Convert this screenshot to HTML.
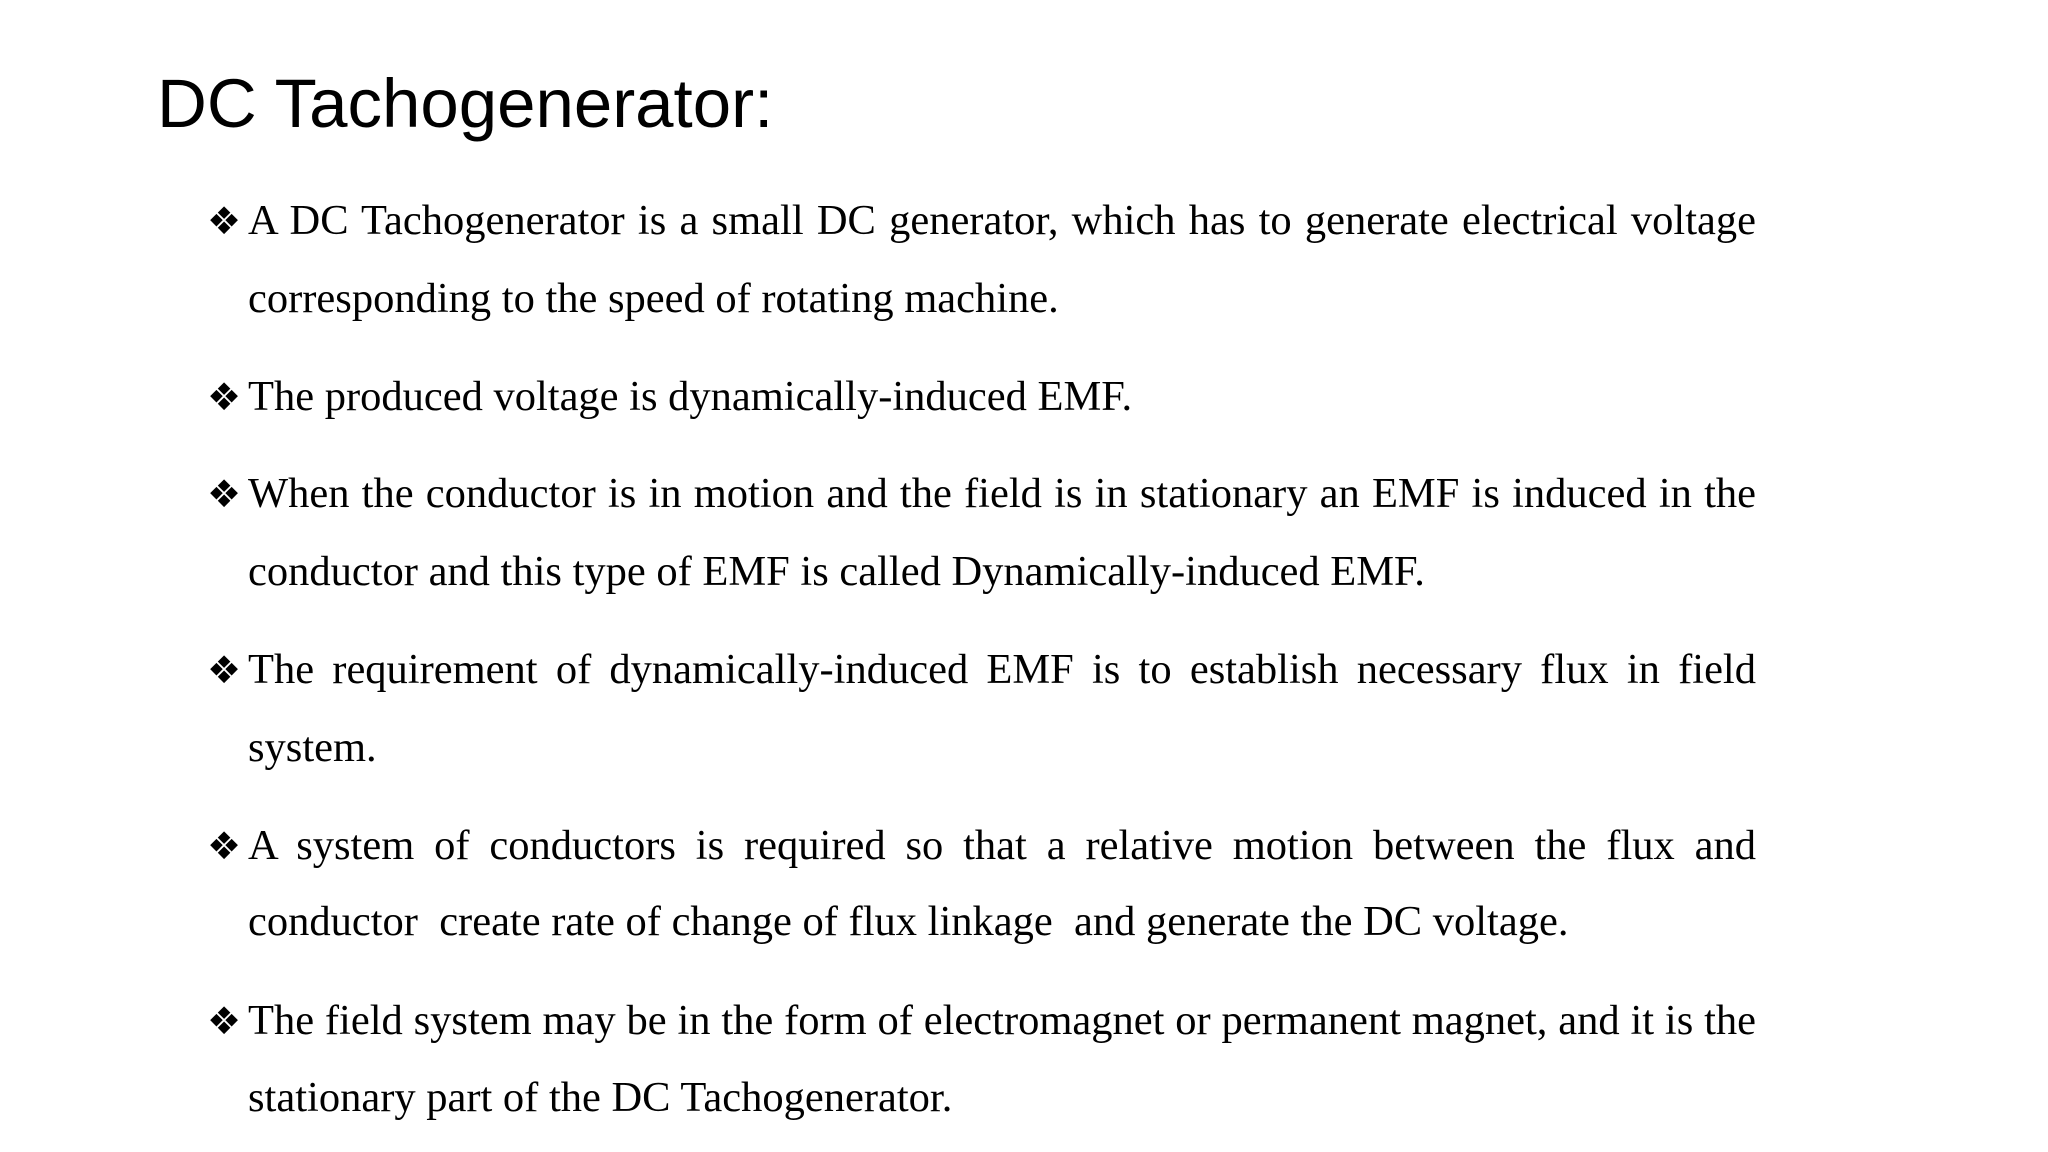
<!DOCTYPE html>
<html><head><meta charset="utf-8"><style>
html,body{margin:0;padding:0;background:#fff;}
body{width:2048px;height:1152px;position:relative;overflow:hidden;}
.t{position:absolute;left:157px;top:69px;font:69px/1 "Liberation Sans",sans-serif;color:#000;white-space:nowrap;}
.l{position:absolute;left:248px;width:1508px;font:42.5px/1 "Liberation Serif",serif;color:#000;white-space:nowrap;}
.j{text-align:justify;text-align-last:justify;white-space:normal;}
.b{position:absolute;left:207px;font:38px/1 "DejaVu Sans",sans-serif;color:#000;}
</style></head><body>
<div class="t">DC Tachogenerator:</div>

<div class="b" style="top:202px">❖</div>
<div class="l j" style="top:200px">A DC Tachogenerator is a small DC generator, which has to generate electrical voltage</div>
<div class="l" style="top:278px">corresponding to the speed of rotating machine.</div>

<div class="b" style="top:378px">❖</div>
<div class="l" style="top:376px">The produced voltage is dynamically-induced EMF.</div>

<div class="b" style="top:475px">❖</div>
<div class="l j" style="top:473px">When the conductor is in motion and the field is in stationary an EMF is induced in the</div>
<div class="l" style="top:551px">conductor and this type of EMF is called Dynamically-induced EMF.</div>

<div class="b" style="top:651px">❖</div>
<div class="l j" style="top:649px">The requirement of dynamically-induced EMF is to establish necessary flux in field</div>
<div class="l" style="top:727px">system.</div>

<div class="b" style="top:827px">❖</div>
<div class="l j" style="top:825px">A system of conductors is required so that a relative motion between the flux and</div>
<div class="l" style="top:901px">conductor&nbsp; create rate of change of flux linkage&nbsp; and generate the DC voltage.</div>

<div class="b" style="top:1002px">❖</div>
<div class="l j" style="top:1000px">The field system may be in the form of electromagnet or permanent magnet, and it is the</div>
<div class="l" style="top:1077px">stationary part of the DC Tachogenerator.</div>
</body></html>
